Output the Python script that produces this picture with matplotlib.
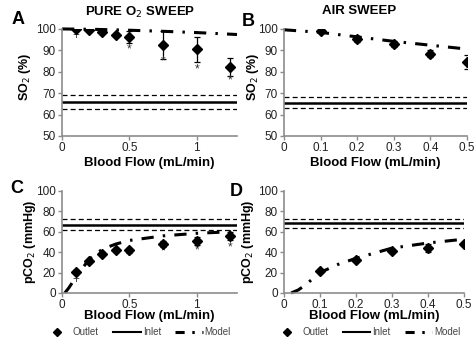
import numpy as np
import matplotlib.pyplot as plt
from matplotlib.lines import Line2D

plt.rcParams['font.family'] = ['Liberation Sans', 'DejaVu Sans']

# ---- data ----
flow_o2 = [0.1, 0.2, 0.3, 0.4, 0.5, 0.75, 1.0, 1.25]
flow_air = [0.1, 0.2, 0.3, 0.4, 0.5]

so2_o2 = [100, 99.5, 98.7, 97.3, 96.2, 92.5, 90.4, 82.3]
so2_o2_err = [0.4, 0.4, 0.6, 1.0, 3.0, 6.4, 5.8, 4.3]
so2_o2_star = [96.7, None, None, None, 90.5, 84.7, 81.3, 75.8]
so2_o2_model_x = [0.0, 0.25, 0.5, 0.75, 1.0, 1.3]
so2_o2_model = [100, 99.8, 99.4, 98.9, 98.3, 97.4]

so2_air = [99.0, 95.2, 93.0, 88.5, 84.6]
so2_air_err = [0.6, 1.3, 1.5, 1.6, 3.4]
so2_air_model_x = [0.0, 0.1, 0.2, 0.3, 0.4, 0.5]
so2_air_model = [99.6, 98.4, 96.3, 94.2, 92.4, 90.6]

pco2_o2 = [21, 31, 38.5, 42, 42, 48, 51, 55.5]
pco2_o2_err = [1.5, 1.5, 1.5, 2.0, 2.5, 2.5, 4.0, 4.0]
pco2_o2_star = [13, None, None, None, 36, 41, 42, 45]
pco2_o2_model_x = [0.02, 0.05, 0.1, 0.2, 0.3, 0.4, 0.5, 0.75, 1.0, 1.25, 1.3]
pco2_o2_model = [0, 5, 15, 33, 43, 48, 51.5, 56, 58.5, 60, 60.3]

pco2_air = [21.5, 32.5, 41, 44, 48]
pco2_air_err = [2.0, 1.5, 2.0, 4.0, 1.5]
pco2_air_model_x = [0.02, 0.04, 0.06, 0.1, 0.15, 0.2, 0.3, 0.4, 0.48]
pco2_air_model = [0, 3, 8, 20, 28, 34, 44, 49, 52]

inlet_so2_o2 = [65.9, 69.3, 62.6]
inlet_so2_air = [65.4, 68.3, 62.9]
inlet_pco2_o2 = [67.0, 72.8, 62.2]
inlet_pco2_air = [68.5, 72.6, 64.0]

GRAY = '#8c8c8c'
MODEL_DASH = (4, 3, 0.8, 3)


def style_axes(ax, xlim, ylim, xticks, yticks, xtl, ylabel, xlabel):
    ax.set_xlim(*xlim)
    ax.set_ylim(*ylim)
    ax.set_xticks(xticks)
    ax.set_xticklabels(xtl)
    ax.set_yticks(yticks)
    for s in ['top', 'right']:
        ax.spines[s].set_visible(False)
    for s in ['left', 'bottom']:
        ax.spines[s].set_color(GRAY)
        ax.spines[s].set_linewidth(1.2)
    ax.tick_params(direction='out', length=3, width=1, color=GRAY,
                   labelsize=8.5, labelcolor='#222222', pad=1.5)
    ax.set_ylabel(ylabel, fontsize=9, fontweight='bold')
    ax.set_xlabel(xlabel, fontsize=9.5, fontweight='bold', labelpad=1)


def draw_panel(ax, x, y, err, mx, my, inlet, star=None):
    ax.axhline(inlet[0], color='black', lw=1.8, zorder=1)
    ax.axhline(inlet[1], color='black', lw=0.9, ls=(0, (4, 2.5)), zorder=1)
    ax.axhline(inlet[2], color='black', lw=0.9, ls=(0, (4, 2.5)), zorder=1)
    ax.plot(mx, my, color='black', lw=2.2, ls=(0, MODEL_DASH), zorder=2,
            clip_on=False)
    ax.errorbar(x, y, yerr=err, fmt='D', color='black', ms=5.5,
                capsize=2.2, elinewidth=0.9, capthick=0.9, zorder=3)
    if star is not None:
        for xi, si in zip(x, star):
            if si is None:
                continue
            mark = '+' if xi == 0.1 else '*'
            ax.text(xi, si, mark, ha='center', va='center', fontsize=8.5,
                    color='#333333')


fig = plt.figure(figsize=(4.74, 3.53), dpi=100)
axA = fig.add_axes([0.131, 0.615, 0.369, 0.303])
axB = fig.add_axes([0.599, 0.615, 0.386, 0.303])
axC = fig.add_axes([0.131, 0.170, 0.369, 0.289])
axD = fig.add_axes([0.599, 0.170, 0.380, 0.289])

draw_panel(axA, flow_o2, so2_o2, so2_o2_err, so2_o2_model_x, so2_o2_model,
           inlet_so2_o2, so2_o2_star)
style_axes(axA, (0, 1.3), (50, 100), [0, 0.5, 1], range(50, 101, 10),
           ['0', '0.5', '1'], 'SO$_2$ (%)', 'Blood Flow (mL/min)')

draw_panel(axB, flow_air, so2_air, so2_air_err, so2_air_model_x,
           so2_air_model, inlet_so2_air)
style_axes(axB, (0, 0.5), (50, 100), [0, 0.1, 0.2, 0.3, 0.4, 0.5],
           range(50, 101, 10), ['0', '0.1', '0.2', '0.3', '0.4', '0.5'],
           'SO$_2$ (%)', 'Blood Flow (mL/min)')

draw_panel(axC, flow_o2, pco2_o2, pco2_o2_err, pco2_o2_model_x,
           pco2_o2_model, inlet_pco2_o2, pco2_o2_star)
style_axes(axC, (0, 1.3), (0, 100), [0, 0.5, 1], range(0, 101, 20),
           ['0', '0.5', '1'], 'pCO$_2$ (mmHg)', 'Blood Flow (mL/min)')

draw_panel(axD, flow_air, pco2_air, pco2_air_err, pco2_air_model_x,
           pco2_air_model, inlet_pco2_air)
style_axes(axD, (0, 0.5), (0, 100), [0, 0.1, 0.2, 0.3, 0.4, 0.5],
           range(0, 101, 20), ['0', '0.1', '0.2', '0.3', '0.4', '0.5'],
           'pCO$_2$ (mmHg)', 'Blood Flow (mL/min)')

for ax in (axA, axB):
    ax.xaxis.set_label_coords(0.5, -0.2)
for ax in (axC, axD):
    ax.xaxis.set_label_coords(0.5, -0.17)
axA.yaxis.set_label_coords(-0.166, 0.55)
axB.yaxis.set_label_coords(-0.126, 0.55)
axC.yaxis.set_label_coords(-0.137, 0.5)
axD.yaxis.set_label_coords(-0.155, 0.5)

fig.text(0.296, 0.985, 'PURE O$_2$ SWEEP', ha='center', va='top',
         fontsize=9.5, fontweight='bold')
fig.text(0.757, 0.985, 'AIR SWEEP', ha='center', va='top',
         fontsize=9.5, fontweight='bold')
for lx, ly, lab in [(0.038, 0.945, 'A'), (0.523, 0.94, 'B'),
                    (0.036, 0.465, 'C'), (0.499, 0.458, 'D')]:
    fig.text(lx, ly, lab, ha='center', va='center', fontsize=13,
             fontweight='bold')

handles = [Line2D([], [], marker='D', color='black', ls='none', ms=4),
           Line2D([], [], color='black', lw=1.5),
           Line2D([], [], color='black', lw=2.2, ls=(0, (3, 2.5, 0.8, 2.5)))]
for ax, lx in ((axC, 0.43), (axD, 0.46)):
    ax.legend(handles, ['Outlet', 'Inlet', 'Model'], ncol=3, frameon=False,
              loc='upper center', bbox_to_anchor=(lx, -0.3),
              fontsize=7, handlelength=2.8, handletextpad=0.2,
              columnspacing=1.5, labelcolor='#444444', borderaxespad=0)

fig.savefig('out.png', dpi=100)
